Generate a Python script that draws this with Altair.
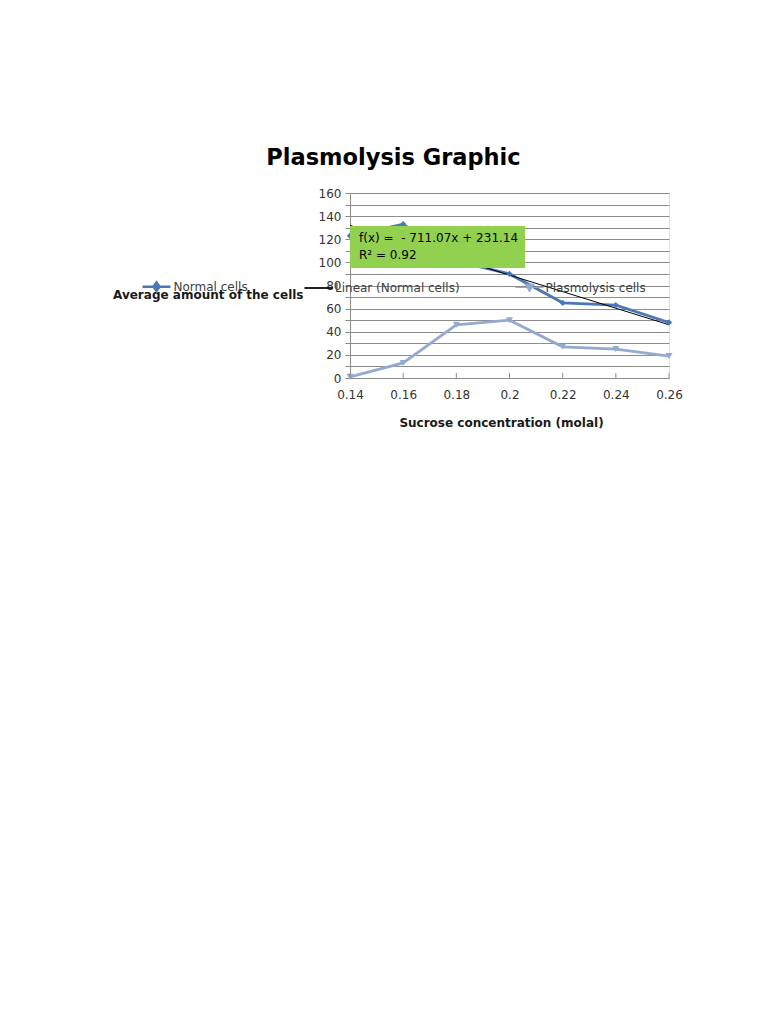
import altair as alt
import pandas as pd

sucrose = [0.14, 0.16, 0.18, 0.20, 0.22, 0.24, 0.26]
normal_cells = [123, 133, 101, 90, 65, 63, 48]
plasmolysis_cells = [1, 13, 46, 50, 27, 25, 19]
series_names = ["Normal cells", "Linear (Normal cells)", "Plasmolysis cells"]
series_colors = ["#4a78b4", "#000000", "#94aacf"]
legend_paths = [
    "M-1,0L1,0M0,-0.3L0.22,0L0,0.3L-0.22,0Z",
    "M-1,0L1,0",
    "M-1,0L1,0M-0.32,-0.24L0.32,-0.24L0,0.32Z",
]
legend_widths = [2.5, 1, 3.5]
x_ticks = [0.14, 0.16, 0.18, 0.20, 0.22, 0.24, 0.26]
y_grid = list(range(0, 161, 10))
fit_text = ["f(x) = \u00a0- 711.07x + 231.14", "R² = 0.92"]

df = pd.DataFrame({
    "x": sucrose + sucrose,
    "y": normal_cells + plasmolysis_cells,
    "series": ["Normal cells"] * len(sucrose) + ["Plasmolysis cells"] * len(sucrose),
})

FONT = "DejaVu Sans"
GRID = "#8c8c8c"


def make_legend():
    return alt.Legend(
        title=None, orient="none", legendX=-209, legendY=78, direction="horizontal",
        symbolSize=784, labelOffset=1.5, columnPadding=52.5, padding=0,
        labelFont=FONT, labelFontSize=12, labelColor="#404040",
        symbolOpacity=1,
    )


def color_enc():
    return alt.Color("series:N", scale=alt.Scale(domain=series_names, range=series_colors),
                     legend=make_legend())


x_enc = alt.X(
    "x:Q",
    scale=alt.Scale(domain=[0.14, 0.26], nice=False, zero=False),
    axis=alt.Axis(
        values=x_ticks, format=".2~f", title="Sucrose concentration (molal)",
        titleFont=FONT, titleFontSize=12, titleFontWeight="bold", titleColor="#1a1a1a",
        titleX=151, titleY=44, titleBaseline="middle", titleAlign="center",
        labelFont=FONT, labelFontSize=12, labelColor="#333333", labelPadding=11,
        labelFlush=False, labelOverlap=False,
        ticks=False, tickSize=0, domainColor=GRID, grid=False,
    ),
)
y_enc = alt.Y(
    "y:Q",
    scale=alt.Scale(domain=[0, 160], nice=False),
    axis=alt.Axis(
        values=y_grid, labelExpr="datum.value % 20 == 0 ? datum.label : ''",
        labelOverlap=False, tickCount=17,
        title="Average amount of the cells", titleAngle=0,
        titleFont=FONT, titleFontSize=12, titleFontWeight="bold", titleColor="#1a1a1a",
        titleX=-47, titleY=101, titleAlign="right", titleBaseline="middle",
        labelFont=FONT, labelFontSize=12, labelColor="#333333", labelPadding=4,
        tickSize=5, tickColor=GRID, domainColor=GRID, gridColor=GRID, gridOpacity=1,
    ),
)

base = alt.Chart(df)

lines = base.mark_line(strokeWidth=2.8).encode(x=x_enc, y=y_enc, color=color_enc(), detail="series:N")

pts_normal = base.transform_filter("datum.series === 'Normal cells'").mark_point(
    shape="diamond", filled=True, size=40, opacity=1
).encode(x=x_enc, y=y_enc, color=color_enc())

pts_plasm = base.transform_filter("datum.series === 'Plasmolysis cells'").mark_point(
    shape="triangle-down", filled=True, size=50, opacity=1
).encode(x=x_enc, y=y_enc, color=color_enc())

trend = base.transform_filter("datum.series === 'Normal cells'").transform_regression(
    "x", "y"
).transform_calculate(series="'Linear (Normal cells)'").mark_line(strokeWidth=1).encode(
    x=x_enc, y=y_enc, color=color_enc()
)

x_tick_marks = alt.Chart(pd.DataFrame({"x": x_ticks})).mark_rule(color=GRID, strokeWidth=1).encode(
    x=x_enc, y=alt.value(180), y2=alt.value(185)
)

legend_layer = base.transform_filter("false").mark_point(filled=False, size=784, opacity=1).encode(
    x=x_enc, y=y_enc,
    color=color_enc(),
    shape=alt.Shape("series:N", scale=alt.Scale(domain=series_names, range=legend_paths), legend=make_legend()),
    strokeWidth=alt.StrokeWidth("series:N", scale=alt.Scale(domain=series_names, range=legend_widths), legend=make_legend()),
)

box_df = pd.DataFrame({"k": [0]})
box = alt.Chart(box_df).mark_rect(color="#92d050").encode(
    x=alt.value(0), x2=alt.value(175), y=alt.value(33), y2=alt.value(75)
)
box_text = alt.Chart(box_df).mark_text(
    align="left", baseline="middle", font=FONT, fontSize=12, lineHeight=17, color="#000000"
).encode(x=alt.value(9), y=alt.value(45), text=alt.value(fit_text))

chart = alt.layer(lines, trend, pts_normal, pts_plasm, x_tick_marks, box, box_text, legend_layer).properties(
    width=319, height=185,
    title=alt.Title("Plasmolysis Graphic", font=FONT, fontSize=22.5, fontWeight="bold",
                    color="#000000", anchor="middle", frame="group", dx=-116,
                    offset=0, baseline="alphabetic"),
    autosize=alt.AutoSizeParams(type="none"),
    padding={"left": 342, "top": 185, "right": 60, "bottom": 70},
).configure_view(stroke=None).configure(font=FONT)

chart.save("out.html", embed_options={"renderer": "svg", "actions": False})
